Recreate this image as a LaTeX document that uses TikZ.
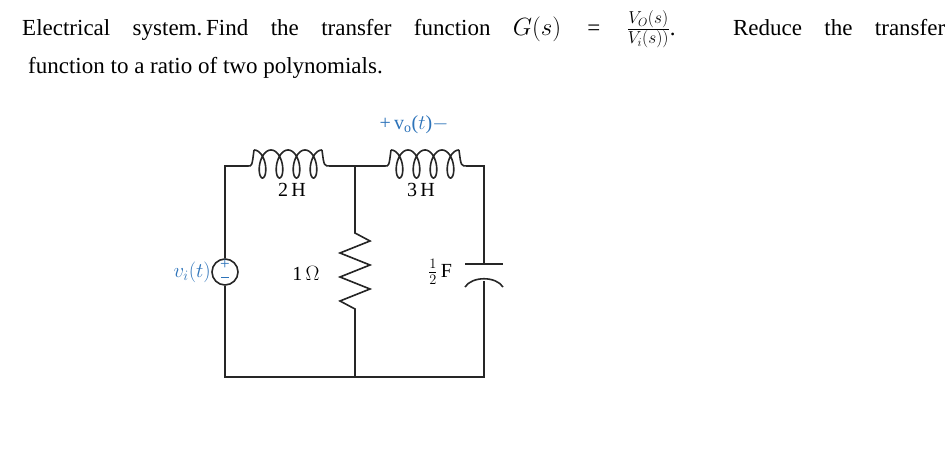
\documentclass[tikz,border=0pt]{standalone}
\usepackage{fontspec}
\setmainfont{Liberation Serif}
\definecolor{lblue}{RGB}{45,115,185}
\begin{document}
\begin{tikzpicture}[x=1pt,y=-1pt,
  wire/.style={line width=1.6pt,black!85},
  lbl/.style={font=\fontsize{20}{20}\selectfont,inner sep=0pt},
  blbl/.style={lbl,text=lblue},
  sgn/.style={text=lblue,font=\fontsize{17}{17}\selectfont,inner sep=0pt}]
\useasboundingbox (0,0) rectangle (951,448);
\node[anchor=base west,inner sep=0pt,font=\fontsize{23}{26}\selectfont] (t1) at (22,35)
 {\makebox[923pt][s]{Electrical system.\,Find the transfer function $G(s)$\, =\, $\frac{V_O(s)}{V_i(s))}$. Reduce the transfer}};
\node[anchor=base west,inner sep=0pt,font=\fontsize{23}{26}\selectfont] (t2) at (28,73)
 {function to a ratio of two polynomials.};
% nodes
\coordinate (tl) at (225,166); \coordinate (tm) at (355,166); \coordinate (tr) at (484,166);
\coordinate (bl) at (225,377); \coordinate (bm) at (355,377); \coordinate (br) at (484,377);
\node[draw,circle,line width=1.6pt,black!85,minimum size=26pt,inner sep=0pt] (src) at (225,272) {};
\node[sgn] (sp) at (225,265) {+};
\node[sgn] (sm) at (225,279) {\rule[0.3ex]{8pt}{1.3pt}};
% wires
\draw[wire] (src.south) -- (bl) -- (br) -- (484,281);
\draw[wire] (src.north) -- (tl) -- (248,166) .. controls (252,166) .. (254,150);
\draw[wire] (254,150) plot[domain=0:1440,samples=220,smooth] ({254+\x/360*17+7*sin(\x)},{164-14*cos(\x)});
\draw[wire] (322,150) .. controls (324,166) .. (330,166) -- (tm) -- (385,166) .. controls (389,166) .. (391,150);
\draw[wire] (391,150) plot[domain=0:1440,samples=220,smooth] ({391+\x/360*17+7*sin(\x)},{164-14*cos(\x)});
\draw[wire] (459,150) .. controls (461,166) .. (467,166) -- (tr) -- (484,264);
% resistor
\draw[wire] (tm) -- (355,233) -- (370,241) -- (340,253) -- (370,265) -- (340,277) -- (370,289) -- (340,301) -- (355,309) -- (bm);
% capacitor
\draw[wire] (465,264) -- (503,264);
\draw[wire] (465,287) .. controls (472,276) and (496,276) .. (503,287);
% labels
\node[lbl] (l2) at (292,190) {2\,H};
\node[lbl] (l3) at (421,190) {3\,H};
\node[lbl] (lr) at (306,273) {1\,$\Omega$};
\node[lbl] (lc) at (440,272) {$\frac{1}{2}$\,F};
\node[blbl,anchor=east] (lvi) at (211,272) {$v_i(t)$};
\node[blbl] (lvo) at (414,125) {+\,v$_\mathrm{o}$($t$)$-$};
\end{tikzpicture}
\end{document}
